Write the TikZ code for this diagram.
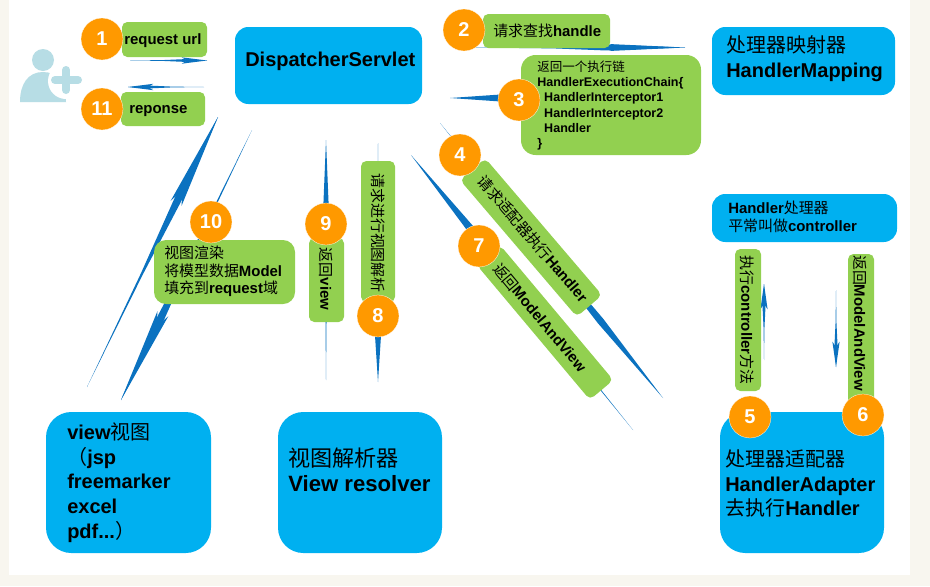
\documentclass[tikz,border=0pt]{standalone}
\usepackage{fontspec}
\setmainfont{Liberation Sans}[BoldFont={Liberation Sans Bold}]
\newfontfamily\cjk{Noto Sans CJK SC}
\usetikzlibrary{calc}
\definecolor{pagebg}{HTML}{F8F6EF}
\definecolor{boxblue}{HTML}{00B0F0}
\definecolor{boxgreen}{HTML}{92D050}
\definecolor{badge}{HTML}{FF9900}
\definecolor{arrowblue}{HTML}{0B72C0}
\definecolor{iconblue}{HTML}{B7DDE5}
\newcommand\zh[1]{{\cjk\mdseries #1}}
\tikzset{
  blueshape/.style={fill=boxblue,draw=none,rounded corners=10pt,inner sep=0pt},
  greenshape/.style={fill=boxgreen,draw=none,rounded corners=4pt,inner sep=0pt},
  badgeshape/.style={circle,fill=badge,draw=white,line width=.2pt,minimum size=31.5pt,inner sep=0pt,text=white,font=\fontsize{15}{15}\selectfont\bfseries},
  biglabel/.style={anchor=west,align=left,inner sep=0pt,font=\fontsize{15}{18.5}\selectfont\bfseries},
  smalllabel/.style={anchor=west,align=left,inner sep=0pt,font=\fontsize{11.2}{13.2}\selectfont\bfseries},
  tinylabel/.style={anchor=west,align=left,inner sep=0pt,font=\fontsize{9.4}{11.3}\selectfont\bfseries},
  sidelabel/.style={inner sep=0pt,font=\fontsize{11.2}{13.2}\selectfont\bfseries},
  spindlefill/.style={fill=arrowblue,draw=none}
}
% box from pixel corners
\newcommand\boxat[6]{%
  \pgfmathsetmacro\bcx{(#3+#5)/2}\pgfmathsetmacro\bcy{(#4+#6)/2}%
  \pgfmathsetmacro\bww{(#5-#3)*0.75}\pgfmathsetmacro\bhh{(#6-#4)*0.75}%
  \node[#2,minimum width=\bww pt,minimum height=\bhh pt] (#1) at (\bcx,\bcy) {};}
% tapered connector: from, to, position of widest point, half width
% the long side from the first point is thin for most of its length
\newcommand\spindle[4]{%
  \pgfmathsetmacro\spa{#3*0.6}\pgfmathsetmacro\sph{#4*0.3}%
  \coordinate (spm) at ($(#1)!#3!(#2)$);
  \coordinate (spa) at ($(#1)!\spa!(#2)$);
  \fill[spindlefill] (#1) -- ($(spa)!\sph pt!90:(#2)$) -- ($(spm)!#4!90:(#2)$) -- (#2)
     -- ($(spm)!#4!-90:(#2)$) -- ($(spa)!\sph pt!-90:(#2)$) -- cycle;}
% notched arrow head: tip, tail, length, half width, notch distance
\newcommand\headat[5]{%
  \coordinate (hdb) at ($(#1)!#3!(#2)$);
  \fill[spindlefill] (#1) -- ($(hdb)!#4!90:(#1)$) -- ($(#1)!#5!(#2)$) -- ($(hdb)!#4!-90:(#1)$) -- cycle;}
\begin{document}
\begin{tikzpicture}[x=0.75pt,y=-0.75pt]
\useasboundingbox (0,0) rectangle (930,586);
\fill[pagebg] (0,0) rectangle (930,586);
\fill[white] (9,0) rectangle (910,575);

% user icon
\fill[iconblue] (43,60) circle (8.25pt);
\fill[iconblue] (20,102) .. controls (20,84) and (28,72) .. (43,72) .. controls (58,72) and (66,84) .. (66,102) -- cycle;
\fill[white] (66,81) circle (13.5pt);
\draw[iconblue,line width=6pt,line cap=round] (55,80) -- (78,80);
\draw[iconblue,line width=6pt,line cap=round] (66,70) -- (66,90);

% connector end points
\coordinate (a1s) at (130,60.5); \coordinate (a1e) at (207,60.5);
\coordinate (a11s) at (204,87); \coordinate (a11e) at (128,87);
\coordinate (a2s) at (475,47.5); \coordinate (a2e) at (685,47.5);
\coordinate (a3s) at (510,98); \coordinate (a3e) at (450,98);
\coordinate (a4s) at (440,123); \coordinate (a4e) at (663,398);
\coordinate (a7s) at (633,430); \coordinate (a7e) at (411,155);
\coordinate (a9s) at (326,380); \coordinate (a9e) at (326,140);
\coordinate (a8s) at (378,143); \coordinate (a8e) at (378,382);
\coordinate (a10s) at (87,387); \coordinate (a10e) at (218,117);
\coordinate (a12s) at (252,130); \coordinate (a12e) at (121,400);
\coordinate (a5s) at (764,360); \coordinate (a5e) at (764,284);
\coordinate (a6s) at (836,290); \coordinate (a6e) at (836,367);

% connectors
\spindle{a1s}{a1e}{0.7}{1pt}\headat{a1e}{a1s}{19pt}{2.4pt}{15pt}
\spindle{a11s}{a11e}{0.7}{1pt}\headat{a11e}{a11s}{19pt}{2.4pt}{15pt}
\spindle{a2s}{a2e}{0.62}{2.2pt}\headat{a2e}{a2s}{57pt}{2.6pt}{50pt}
\spindle{a3s}{a3e}{0.1}{2.8pt}
\spindle{a4s}{a4e}{0.72}{2.6pt}
\spindle{a7s}{a7e}{0.73}{2.8pt}
\spindle{a9s}{a9e}{0.7}{2.2pt}
\spindle{a8s}{a8e}{0.81}{2.2pt}
\spindle{a10s}{a10e}{0.7}{2.8pt}\headat{a10e}{a10s}{72pt}{4.5pt}{61pt}
\spindle{a12s}{a12e}{0.7}{2.8pt}\headat{a12e}{a12s}{72pt}{4.5pt}{61pt}
\spindle{a5s}{a5e}{0.7}{1.1pt}\headat{a5e}{a5s}{19pt}{2.7pt}{15pt}
\spindle{a6s}{a6e}{0.7}{1.1pt}\headat{a6e}{a6s}{19pt}{2.7pt}{15pt}

% blue boxes
\boxat{dispatcher}{blueshape}{235}{27}{422}{104}
\boxat{mapping}{blueshape}{712}{27}{895}{95}
\boxat{handlerbox}{blueshape}{712}{194}{897}{242}
\boxat{viewbox}{blueshape,rounded corners=19pt}{46}{412}{211}{553}
\boxat{resolver}{blueshape,rounded corners=19pt}{278}{412}{442}{553}
\boxat{adapter}{blueshape,rounded corners=19pt}{720}{412}{884}{553}

% green boxes
\boxat{g1}{greenshape}{122}{22}{207}{57}
\boxat{g11}{greenshape}{121}{92}{205}{126}
\boxat{g2}{greenshape}{483}{14}{610}{48}
\boxat{g3}{greenshape,rounded corners=11pt}{521}{55}{701}{155}
\boxat{g10}{greenshape,rounded corners=9pt}{154}{240}{295}{304}
\boxat{g9}{greenshape}{309}{238}{344}{322}
\boxat{g8}{greenshape}{361}{161}{395}{302}
\boxat{g5}{greenshape}{735}{249}{761}{391}
\boxat{g6}{greenshape}{848}{254}{874}{405}
\node[greenshape,rotate=-49.5,minimum width=135pt,minimum height=25pt] (g4) at (531,237.5) {};
\node[greenshape,rotate=-50,minimum width=132pt,minimum height=23pt] (g7) at (545,322.5) {};

% labels
\node[biglabel] (tdispatcher) at (245,61) {DispatcherServlet};
\node[biglabel] (tmapping) at (726,58.5) {\zh{处理器映射器}\\HandlerMapping};
\node[biglabel,font=\fontsize{11.2}{13.5}\selectfont\bfseries] (thandler) at (728,217) {Handler\zh{处理器}\\\zh{平常叫做}controller};
\node[biglabel] (tview) at (67,482.5) {view\zh{视图}\\\zh{（}jsp\\freemarker\\excel\\pdf...\zh{）}};
\node[biglabel,font=\fontsize{16.6}{19}\selectfont\bfseries] (tresolver) at (288,470) {\zh{视图解析器}\\View resolver};
\node[biglabel] (tadapter) at (725,483.5) {\zh{处理器适配器}\\HandlerAdapter\\\zh{去执行}Handler};
\node[smalllabel] (t1) at (124,41) {request url};
\node[smalllabel] (t11) at (129,111) {reponse};
\node[smalllabel] (t2) at (493,31) {\zh{请求查找}handle};
\node[tinylabel] (t3) at (537,105.5) {\zh{返回一个执行链}\\HandlerExecutionChain\{\\\ \ HandlerInterceptor1\\\ \ HandlerInterceptor2\\\ \ Handler\\\}};
\node[smalllabel] (t10) at (164,271.5) {\zh{视图渲染}\\\zh{将模型数据}Model\\\zh{填充到}request\zh{域}};
\node[sidelabel,rotate=-90] (t9) at (326,279) {\zh{返回}view};
\node[sidelabel,rotate=-90] (t8) at (378,233) {\zh{请求进行视图解析}};
\node[sidelabel,rotate=-90] (t5) at (747,320) {\zh{执行}controller\zh{方法}};
\node[sidelabel,rotate=-90] (t6) at (860,323) {\zh{返回}ModelAndView};
\node[sidelabel,rotate=-49.5] (t4) at (533,239) {\zh{请求适配器执行}Handler};
\node[sidelabel,rotate=-50] (t7) at (540,317.5) {\zh{返回}ModelAndView};

% badges
\node[badgeshape] (n1) at (102,39) {1};
\node[badgeshape] (n11) at (102,109) {11};
\node[badgeshape] (n2) at (464,30) {2};
\node[badgeshape] (n3) at (519,100) {3};
\node[badgeshape] (n4) at (460,155) {4};
\node[badgeshape] (n7) at (479,246) {7};
\node[badgeshape] (n10) at (211,222) {10};
\node[badgeshape] (n9) at (326,224) {9};
\node[badgeshape] (n8) at (378,316) {8};
\node[badgeshape] (n5) at (750,417) {5};
\node[badgeshape] (n6) at (863,415) {6};
\end{tikzpicture}
\end{document}
